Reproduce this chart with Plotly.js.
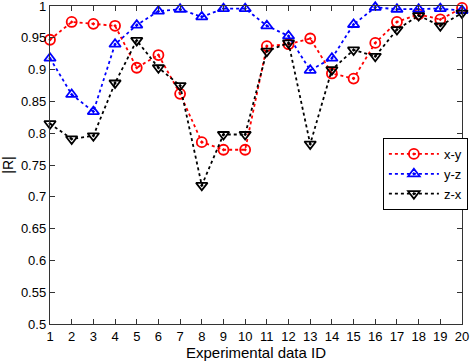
<!DOCTYPE html>
<html><head><meta charset="utf-8">
<script src="https://cdn.plot.ly/plotly-3.0.1.min.js"></script>
<style>body{margin:0;background:#fff}#chart{width:474px;height:361px}</style>
</head><body><div id="chart"></div>
<script>
const ids = [1,2,3,4,5,6,7,8,9,10,11,12,13,14,15,16,17,18,19,20];
const xy = [0.947,0.975,0.972,0.969,0.903,0.923,0.862,0.786,0.774,0.774,0.937,0.940,0.949,0.894,0.886,0.942,0.975,0.987,0.979,0.997];
const yz = [0.918,0.861,0.834,0.940,0.970,0.992,0.995,0.983,0.996,0.996,0.969,0.953,0.899,0.918,0.971,0.998,0.995,0.995,0.996,0.993];
const zx = [0.815,0.791,0.796,0.879,0.946,0.903,0.875,0.718,0.798,0.798,0.929,0.942,0.783,0.900,0.931,0.921,0.963,0.985,0.969,0.989];
const names = ['x-y','y-z','z-x'];
const yTickVals = [0.5,0.55,0.6,0.65,0.7,0.75,0.8,0.85,0.9,0.95,1];
const yTickText = ['0.5','0.55','0.6','0.65','0.7','0.75','0.8','0.85','0.9','0.95','1'];

const font = {family:'Liberation Sans, Arial, sans-serif', color:'#000'};
function tr(y, name, color, sym){
  return {x: ids, y: y, name: name, mode:'lines+markers', type:'scatter', cliponaxis:false,
    line:{color:color, width:1.8, dash:'dot'},
    marker:{symbol:sym, size:10, color:'rgba(0,0,0,0)', line:{color:color, width:1.8}}};
}
const data = [
  tr(xy, names[0], '#ff0000', 'circle-dot'),
  tr(yz, names[1], '#0000ff', 'triangle-up-dot'),
  tr(zx, names[2], '#000000', 'triangle-down-dot')
];
const layout = {
  width:474, height:361,
  margin:{l:50, r:7, t:6, b:37},
  paper_bgcolor:'#fff', plot_bgcolor:'#fff',
  font: Object.assign({size:13}, font),
  showlegend:true,
  legend:{x:0.808, y:0.585, xanchor:'left', yanchor:'top', bordercolor:'#000', borderwidth:1, bgcolor:'#fff', font:{size:13}, itemwidth:50, tracegroupgap:0},
  xaxis:{range:[1,20], tickvals:ids, ticks:'inside', ticklen:5, tickcolor:'#333', mirror:'ticks', showline:true, linecolor:'#333', linewidth:1.2, showgrid:false, zeroline:false,
    ticklabeloverflow:'allow',
    title:{text:'Experimental data ID', font:{size:15}, standoff:2}, tickfont:{size:13}},
  yaxis:{range:[0.5,1.0001], tickvals:yTickVals, ticktext:yTickText, ticks:'inside', ticklen:5, tickcolor:'#333', mirror:'ticks', showline:true, linecolor:'#333', linewidth:1.2, showgrid:false, zeroline:false,
    ticklabeloverflow:'allow',
    title:{text:'|R|', font:{size:14}, standoff:6}, tickfont:{size:13}}
};
Plotly.newPlot('chart', data, layout, {displayModeBar:false, staticPlot:true});
</script></body></html>
